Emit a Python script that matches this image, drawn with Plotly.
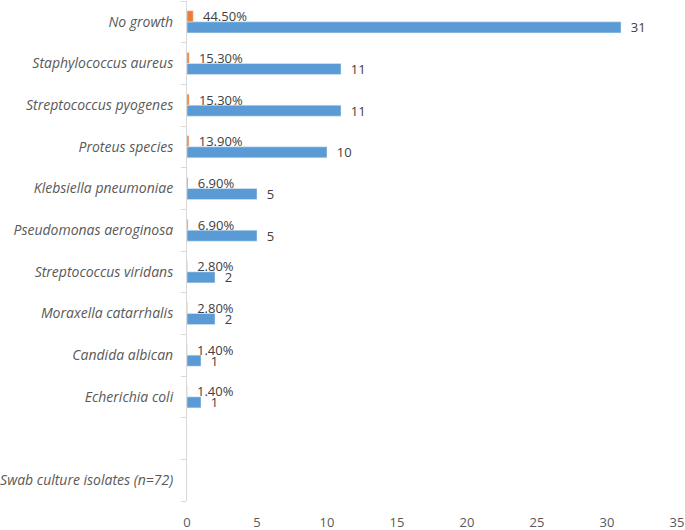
import plotly.graph_objects as go

categories = ["No growth", "Staphylococcus aureus", "Streptococcus pyogenes", "Proteus species",
              "Klebsiella pneumoniae", "Pseudomonas aeroginosa", "Streptococcus viridans",
              "Moraxella catarrhalis", "Candida albican", "Echerichia coli", " ",
              "Swab culture isolates (n=72)"]
counts = [31, 11, 11, 10, 5, 5, 2, 2, 1, 1, None, None]
percents = [44.5, 15.3, 15.3, 13.9, 6.9, 6.9, 2.8, 2.8, 1.4, 1.4, None, None]
x_ticks = [0, 5, 10, 15, 20, 25, 30, 35]

frac = [p / 100 if p is not None else None for p in percents]
count_text = ["  %d" % c if c is not None else "" for c in counts]
pct_text = ["  %.2f%%" % p if p is not None else "" for p in percents]

fig = go.Figure()
fig.add_trace(go.Bar(
    y=categories, x=counts, orientation="h", name="Count",
    marker=dict(color="#5b9bd5"), text=count_text, textposition="outside",
    constraintext="none",
    textfont=dict(family="Open Sans", size=13, color="#404040"), cliponaxis=False,
))
fig.add_trace(go.Bar(
    y=categories, x=frac, orientation="h", name="Percent",
    marker=dict(color="#ed7d31"), text=pct_text, textposition="outside",
    constraintext="none",
    textfont=dict(family="Open Sans", size=13, color="#404040"), cliponaxis=False,
))

fig.update_layout(
    width=685, height=530,
    margin=dict(l=187, r=8, t=1, b=29),
    barmode="group", bargap=0.47, bargroupgap=0,
    showlegend=False,
    plot_bgcolor="white", paper_bgcolor="white",
    font=dict(family="Open Sans", color="#595959"),
)
fig.update_xaxes(
    range=[0, 35], tickvals=x_ticks, showgrid=False, zeroline=False,
    showline=False, ticks="outside", ticklen=9, tickcolor="rgba(0,0,0,0)",
    tickfont=dict(size=13, color="#595959"),
    automargin=False,
)
fig.update_yaxes(
    type="category", categoryorder="array", categoryarray=list(reversed(categories)),
    showgrid=False, zeroline=False, showline=True, linecolor="#d9d9d9", linewidth=1,
    ticks="outside", tickson="boundaries", ticklen=5, tickcolor="#d9d9d9",
    ticklabelstandoff=10,
    tickfont=dict(size=14, color="#595959", style="italic"), automargin=False,
)

fig.write_html("out.html", config={"displayModeBar": False},
               post_script="document.body.style.margin='0';")
